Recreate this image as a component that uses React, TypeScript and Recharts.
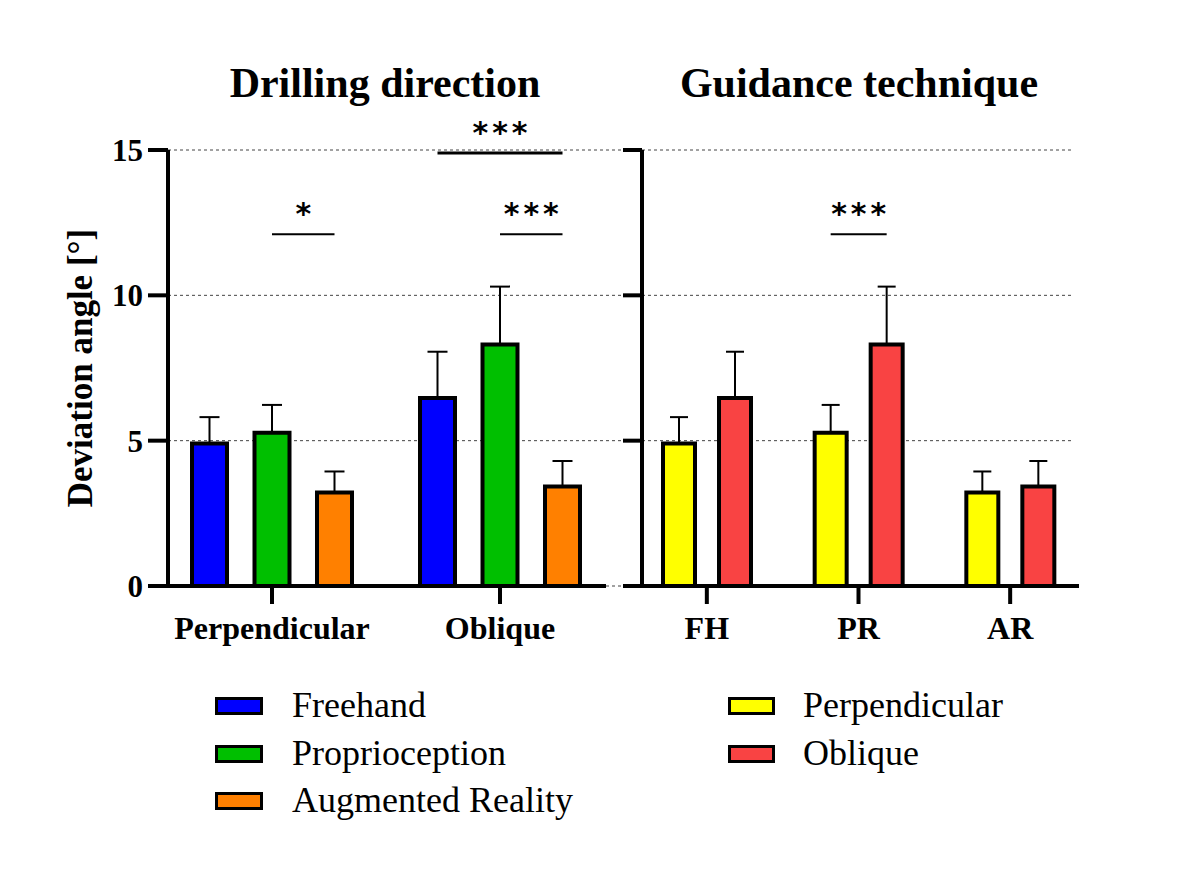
import React from "react";
import { Bar, BarChart, CartesianGrid, ErrorBar, XAxis, YAxis } from "recharts";

const directionCategories = ["Perpendicular", "Oblique"];
const techniqueCategories = ["FH", "PR", "AR"];

const techniqueNames = ["Freehand", "Proprioception", "Augmented Reality"];
const directionNames = ["Perpendicular", "Oblique"];

// mean deviation angle per technique, [perpendicular, oblique]
const freehandMean = [4.9, 6.47];
const freehandSd = [0.91, 1.59];
const proprioceptionMean = [5.27, 8.31];
const proprioceptionSd = [0.96, 1.99];
const augmentedMean = [3.22, 3.42];
const augmentedSd = [0.72, 0.88];

const yTicks = [0, 5, 10, 15];

type Sig = { category: string; from: number; to: number; level: number; text: string; thick?: boolean };

const directionSig: Sig[] = [
  { category: "Perpendicular", from: 1, to: 2, level: 12.1, text: "*" },
  { category: "Oblique", from: 1, to: 2, level: 12.1, text: "***" },
  { category: "Oblique", from: 0, to: 2, level: 14.9, text: "***", thick: true },
];
const techniqueSig: Sig[] = [{ category: "PR", from: 0, to: 1, level: 12.1, text: "***" }];

const techniqueColors = ["#0000ff", "#00bf00", "#ff8000"];
const directionColors = ["#ffff00", "#f94343"];

const means = [freehandMean, proprioceptionMean, augmentedMean];
const sds = [freehandSd, proprioceptionSd, augmentedSd];

const directionData = directionCategories.map((name, d) => {
  const row: Record<string, any> = { name };
  means.forEach((m, t) => {
    row[`m${t}`] = m[d];
    row[`e${t}`] = [0, sds[t][d]];
  });
  return row;
});

const techniqueData = techniqueCategories.map((name, t) => {
  const row: Record<string, any> = { name };
  directionNames.forEach((_, d) => {
    row[`m${d}`] = means[t][d];
    row[`e${d}`] = [0, sds[t][d]];
  });
  return row;
});

const serif = "'Liberation Serif', 'Times New Roman', serif";

// draws the significance bars from the geometry of the "from" bar
function sigLabel(sigs: Sig[], categories: string[], series: number, stride: number) {
  return (props: any) => {
    const { x, y, width, height, value, index } = props;
    const items = sigs.filter((s) => s.from === series && s.category === categories[index]);
    if (!items.length || !value) return null;
    const base = Number(y) + Number(height);
    const unit = Number(height) / Number(value);
    const cx = Number(x) + Number(width) / 2;
    return (
      <g key={`sig-${series}-${index}`}>
        {items.map((s, k) => {
          const ly = base - s.level * unit;
          const x2 = cx + (s.to - s.from) * stride;
          return (
            <g key={k}>
              <line x1={cx} x2={x2} y1={ly} y2={ly} stroke="#000" strokeWidth={s.thick ? 3 : 2} />
              <text
                x={(cx + x2) / 2 + 2}
                y={ly - 10}
                textAnchor="middle"
                fontFamily="'DejaVu Sans', sans-serif"
                fontWeight="bold"
                fontSize={30}
                letterSpacing={4}
                fill="#000"
              >
                {s.text}
              </text>
            </g>
          );
        })}
      </g>
    );
  };
}

const axisStyle = { stroke: "#000", strokeWidth: 4 };
const tickLineStyle = { stroke: "#000", strokeWidth: 4 };

export default function App() {
  const leftBar = 35;
  const leftGap = 27.5;
  const rightBar = 32;
  const rightGap = 24;

  return (
    <div
      style={{
        position: "absolute",
        left: 0,
        top: 0,
        width: 1200,
        height: 880,
        background: "#fff",
        fontFamily: serif,
        color: "#000",
        overflow: "hidden",
      }}
    >
      <div style={{ position: "absolute", left: 185, width: 400, top: 62, textAlign: "center", fontSize: 42, fontWeight: "bold", lineHeight: 1 }}>
        Drilling direction
      </div>
      <div style={{ position: "absolute", left: 659, width: 400, top: 62, textAlign: "center", fontSize: 42, fontWeight: "bold", lineHeight: 1 }}>
        Guidance technique
      </div>

      <div style={{ position: "absolute", left: 0, top: 0 }}>
        <BarChart
          width={660}
          height={700}
          data={directionData}
          margin={{ top: 150, right: 54, bottom: 44, left: 0 }}
          barGap={leftGap}
        >
          <CartesianGrid vertical={false} stroke="#444" strokeDasharray="3 3" width={474} />
          <XAxis
            dataKey="name"
            interval={0}
            padding={{ left: -10, right: -8 }}
            height={70}
            tickSize={18}
            tickMargin={12}
            axisLine={axisStyle}
            tickLine={tickLineStyle}
            tick={{ fill: "#000", fontSize: 32, fontWeight: "bold", fontFamily: serif }}
          />
          <YAxis
            width={168}
            domain={[0, 15]}
            ticks={yTicks}
            tickSize={20}
            tickMargin={5}
            axisLine={axisStyle}
            tickLine={tickLineStyle}
            tick={{ fill: "#000", fontSize: 31, fontWeight: "bold", fontFamily: serif }}
            label={{
              value: "Deviation angle [°]",
              angle: -90,
              position: "center",
              dx: -4,
              fill: "#000",
              fontSize: 35,
              fontWeight: "bold",
              fontFamily: serif,
            }}
          />
          {techniqueNames.map((n, i) => (
            <Bar
              key={n}
              dataKey={`m${i}`}
              name={n}
              fill={techniqueColors[i]}
              stroke="#000"
              strokeWidth={4}
              barSize={leftBar}
              isAnimationActive={false}
              label={sigLabel(directionSig, directionCategories, i, leftBar + leftGap)}
            >
              <ErrorBar dataKey={`e${i}`} width={10} stroke="#000" strokeWidth={2} direction="y" isAnimationActive={false} />
            </Bar>
          ))}
        </BarChart>
      </div>

      <div style={{ position: "absolute", left: 600, top: 0 }}>
        <BarChart
          width={600}
          height={700}
          data={techniqueData}
          margin={{ top: 150, right: 121, bottom: 44, left: 0 }}
          barGap={rightGap}
        >
          <CartesianGrid vertical={false} stroke="#444" strokeDasharray="3 3" width={432} />
          <XAxis
            dataKey="name"
            interval={0}
            padding={{ left: -11, right: -7 }}
            height={70}
            tickSize={18}
            tickMargin={12}
            axisLine={axisStyle}
            tickLine={tickLineStyle}
            tick={{ fill: "#000", fontSize: 32, fontWeight: "bold", fontFamily: serif }}
          />
          <YAxis
            width={42}
            domain={[0, 15]}
            ticks={yTicks}
            tickSize={19}
            tickFormatter={() => ""}
            axisLine={axisStyle}
            tickLine={tickLineStyle}
          />
          {directionNames.map((n, i) => (
            <Bar
              key={n}
              dataKey={`m${i}`}
              name={n}
              fill={directionColors[i]}
              stroke="#000"
              strokeWidth={4}
              barSize={rightBar}
              isAnimationActive={false}
              label={sigLabel(techniqueSig, techniqueCategories, i, rightBar + rightGap)}
            >
              <ErrorBar dataKey={`e${i}`} width={9} stroke="#000" strokeWidth={2} direction="y" isAnimationActive={false} />
            </Bar>
          ))}
        </BarChart>
      </div>

      {techniqueNames.map((n, i) => (
        <React.Fragment key={n}>
          <div
            style={{
              position: "absolute",
              left: 215,
              top: 706 + i * 47.5 - 9,
              width: 48,
              height: 18,
              boxSizing: "border-box",
              border: "3.5px solid #000",
              background: techniqueColors[i],
            }}
          />
          <div style={{ position: "absolute", left: 292, top: 706 + i * 47.5 - 19, fontSize: 36, lineHeight: 1, whiteSpace: "nowrap" }}>
            {n}
          </div>
        </React.Fragment>
      ))}
      {directionNames.map((n, i) => (
        <React.Fragment key={n}>
          <div
            style={{
              position: "absolute",
              left: 728,
              top: 706 + i * 47.5 - 9,
              width: 47,
              height: 18,
              boxSizing: "border-box",
              border: "3.5px solid #000",
              background: directionColors[i],
            }}
          />
          <div style={{ position: "absolute", left: 803, top: 706 + i * 47.5 - 19, fontSize: 36, lineHeight: 1, whiteSpace: "nowrap" }}>
            {n}
          </div>
        </React.Fragment>
      ))}
    </div>
  );
}
